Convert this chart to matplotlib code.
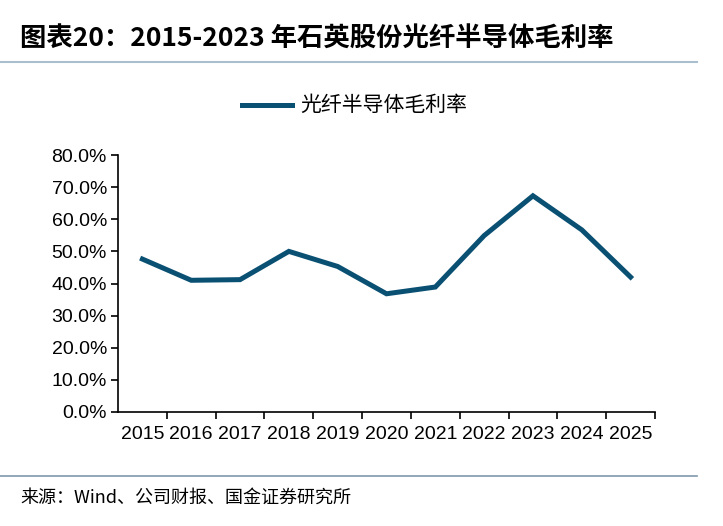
import matplotlib
matplotlib.use("Agg")
import matplotlib.pyplot as plt
from matplotlib.lines import Line2D

plt.rcParams['font.family'] = ['Liberation Sans', 'Noto Sans CJK SC', 'DejaVu Sans']

# data
years = ['2015', '2016', '2017', '2018', '2019', '2020',
         '2021', '2022', '2023', '2024', '2025']
margin = [47.6, 41.0, 41.2, 50.0, 45.3, 36.8, 38.9, 54.9, 67.3, 56.7, 42.0]
y_ticks = [0, 10, 20, 30, 40, 50, 60, 70, 80]

line_color = '#0A5073'
cjk = ['Noto Sans CJK SC', 'DejaVu Sans']

fig = plt.figure(figsize=(7.23, 5.26), dpi=100)
W, H = 723, 526

# plot area
ax = fig.add_axes([118 / W, 1 - 412 / H, (655 - 118) / W, (412 - 155) / H])
x = list(range(len(years)))
ax.plot(x, margin, color=line_color, lw=3.6, solid_joinstyle='miter')

ax.set_xlim(-0.5, len(years) - 0.5)
ax.set_ylim(0, 80)
ax.set_yticks(y_ticks)
ax.set_yticklabels([f'{v:.1f}%' for v in y_ticks], fontsize=14)

# category labels centred, tick marks on boundaries
ax.set_xticks(x)
ax.set_xticklabels(years, fontsize=14)
ax.tick_params(axis='x', which='major', length=0, pad=10)
ax.set_xticks([i - 0.5 for i in range(1, len(years) + 1)], minor=True)
ax.tick_params(axis='x', which='minor', length=5, direction='out', width=1.2)
ax.tick_params(axis='y', length=5, direction='out', width=1.2, pad=3)

for side in ['top', 'right']:
    ax.spines[side].set_visible(False)
for side in ['left', 'bottom']:
    ax.spines[side].set_linewidth(1.2)

# legend drawn in figure coords
fig.add_artist(Line2D([242 / W, 292 / W], [1 - 105 / H, 1 - 105 / H],
                      color=line_color, lw=3.6, transform=fig.transFigure))
fig.text(300 / W, 1 - 105 / H, '光纤半导体毛利率', fontsize=15, family=cjk,
         va='center', ha='left')

# title and separators
fig.text(20 / W, 1 - 39 / H, '图表20：2015-2023 年石英股份光纤半导体毛利率',
         fontsize=19, fontweight='bold', style='italic', family=cjk,
         va='center', ha='left')
fig.add_artist(Line2D([0, 697 / W], [1 - 62 / H, 1 - 62 / H],
                      color='#A9BFCF', lw=1.5, transform=fig.transFigure))
fig.add_artist(Line2D([0, 697 / W], [1 - 476 / H, 1 - 476 / H],
                      color='#7F98AB', lw=1.2, transform=fig.transFigure))
fig.text(20 / W, 1 - 498 / H, '来源：Wind、公司财报、国金证券研究所',
         fontsize=13, family=cjk, va='center', ha='left')

fig.savefig('out.png', dpi=100)
